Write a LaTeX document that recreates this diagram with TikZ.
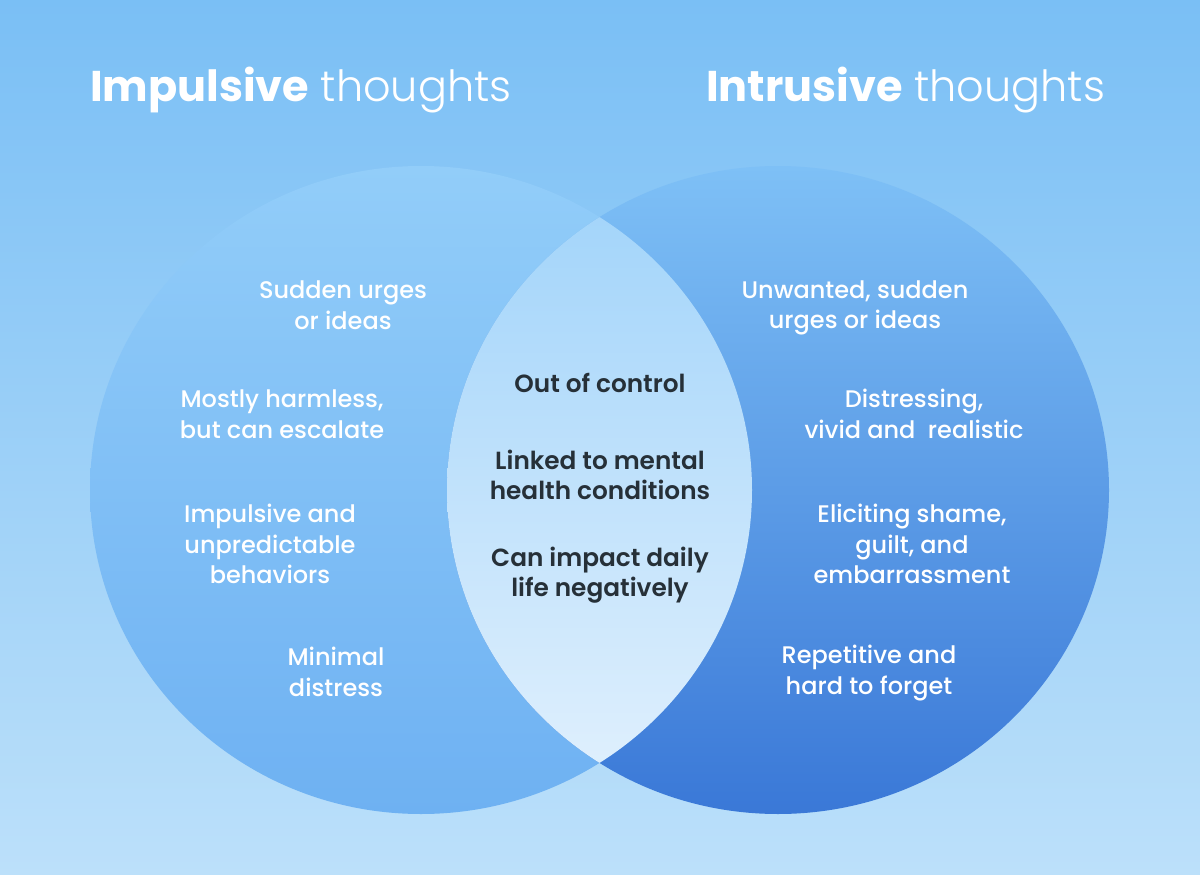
\documentclass[tikz,border=0pt]{standalone}
\usepackage{fontspec}
\setmainfont{Poppins}
\newfontfamily\lightfont{Poppins Light}
\newfontfamily\medfont{Poppins Medium}
\newfontfamily\semifont{Poppins SemiBold}
\definecolor{bgtop}{RGB}{122,191,245}
\definecolor{bgbot}{RGB}{188,224,250}
\definecolor{ltop}{RGB}{146,205,249}
\definecolor{lbot}{RGB}{110,177,242}
\definecolor{rtop}{RGB}{126,192,246}
\definecolor{rbot}{RGB}{58,120,215}
\definecolor{ctop}{RGB}{164,213,250}
\definecolor{cbot}{RGB}{222,239,253}
\definecolor{darktext}{RGB}{38,48,56}
\tikzset{
  x=1pt,y=-1pt,
  body/.style={text=white,align=center,font=\medfont\fontsize{24}{30.5}\selectfont,inner sep=0pt},
  mid/.style={text=darktext,align=center,font=\semifont\fontsize{24.8}{30.5}\selectfont,inner sep=0pt},
  ttl/.style={text=white,anchor=base west,inner sep=0pt,font=\fontsize{43}{50}\selectfont}
}
\begin{document}
\begin{tikzpicture}
\useasboundingbox (0,0) rectangle (1200,875);
\shade[top color=bgtop,bottom color=bgbot] (0,0) rectangle (1200,875);
\shade[top color=ltop,bottom color=lbot] (421,490) ellipse [x radius=331,y radius=324];
\shade[top color=rtop,bottom color=rbot] (778,490) ellipse [x radius=331,y radius=324];
\begin{scope}
\clip (421,490) ellipse [x radius=331,y radius=324];
\clip (778,490) ellipse [x radius=331,y radius=324];
\shade[top color=ctop,bottom color=cbot] (440,215) rectangle (760,765);
\end{scope}
\node[ttl] (t1) at (90,101) {{\bfseries Impulsive}\ {\lightfont thoughts}};
\node[ttl] (t2) at (706,101) {{\bfseries Intrusive}\ {\lightfont thoughts}};
\node[body] (l1) at (343,305) {Sudden urges\\or ideas};
\node[body] (l2) at (282,414) {Mostly harmless,\\but can escalate};
\node[body] (l3) at (270,544) {Impulsive and\\unpredictable\\behaviors};
\node[body] (l4) at (336,672) {Minimal\\distress};
\node[mid] (c1) at (600,383) {Out of control};
\node[mid] (c2) at (600,475) {Linked to mental\\health conditions};
\node[mid] (c3) at (600,575) {Can impact daily\\life negatively};
\node[body] (r1) at (855,308) {Unwanted, sudden\\urges or ideas};
\node[body] (r2) at (914,414) {Distressing,\\vivid and\ \ realistic};
\node[body] (r3) at (912,544) {Eliciting shame,\\guilt, and\\embarrassment};
\node[body] (r4) at (869,673) {Repetitive and\\hard to forget};
\end{tikzpicture}
\end{document}
